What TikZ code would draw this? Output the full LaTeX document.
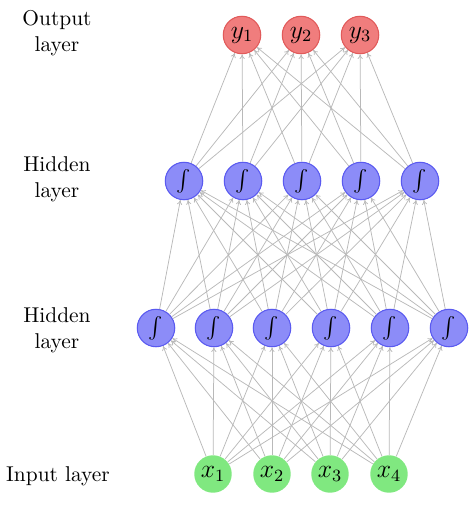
\documentclass[tikz,border=0pt]{standalone}
\usetikzlibrary{arrows.meta}
\definecolor{ingreen}{RGB}{128,232,128}
\definecolor{hidblue}{RGB}{140,140,248}
\definecolor{hidborder}{RGB}{90,90,240}
\definecolor{outred}{RGB}{240,125,125}
\definecolor{outborder}{RGB}{225,90,90}
\begin{document}
\begin{tikzpicture}[x=0.467pt,y=-0.467pt,
  neuron/.style={circle,minimum size=17.5pt,inner sep=0pt,font=\large},
  innode/.style={neuron,fill=ingreen},
  hidnode/.style={neuron,fill=hidblue,draw=hidborder,line width=0.5pt},
  outnode/.style={neuron,fill=outred,draw=outborder,line width=0.5pt},
  conn/.style={draw=gray!55,line width=0.35pt,-{To[length=2.2pt,width=2.4pt]}},
  lbl/.style={align=center,font=\normalsize}]
\useasboundingbox (0,0) rectangle (474,518);
% input
\foreach \i/\x in {1/213,2/272,3/330,4/389}
  \node[innode] (I\i) at (\x,474) {$x_{\i}$};
% hidden 1
\foreach \i/\x in {1/156,2/214,3/272,4/331,5/390,6/449}
  \node[hidnode] (A\i) at (\x,328) {$\int$};
% hidden 2
\foreach \i/\x in {1/184,2/243,3/302,4/361,5/420}
  \node[hidnode] (B\i) at (\x,181) {$\int$};
% output
\foreach \i/\x in {1/242,2/301,3/360}
  \node[outnode] (O\i) at (\x,35) {$y_{\i}$};
% connections
\foreach \i in {1,...,4}
  \foreach \j in {1,...,6}
    \draw[conn] (I\i) -- (A\j);
\foreach \i in {1,...,6}
  \foreach \j in {1,...,5}
    \draw[conn] (A\i) -- (B\j);
\foreach \i in {1,...,5}
  \foreach \j in {1,...,3}
    \draw[conn] (B\i) -- (O\j);
% labels
\node[lbl] (L1) at (57,33) {Output\\layer};
\node[lbl] (L2) at (57,179) {Hidden\\layer};
\node[lbl] (L3) at (57,330) {Hidden\\layer};
\node[lbl] (L4) at (58,476) {Input layer};
\end{tikzpicture}
\end{document}
